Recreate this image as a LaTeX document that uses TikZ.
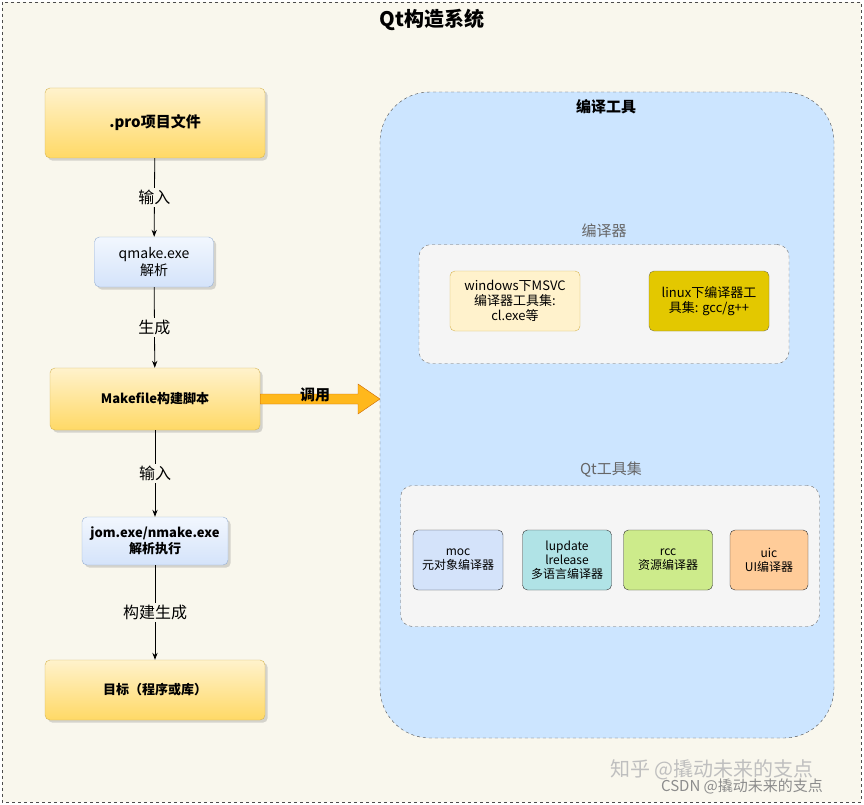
\documentclass[tikz,border=0pt]{standalone}
\usepackage{fontspec}
\setmainfont{Noto Sans CJK SC}
\usetikzlibrary{shadows,arrows.meta}
\definecolor{bgc}{HTML}{F9F7ED}
\definecolor{ylt}{HTML}{FFF2CC}
\definecolor{ydk}{HTML}{FFD966}
\definecolor{ystr}{HTML}{D6B656}
\definecolor{blt}{HTML}{F2F7FE}
\definecolor{bdk}{HTML}{D4E3FA}
\definecolor{bstr}{HTML}{6C8EBF}
\definecolor{cont}{HTML}{CCE5FF}
\definecolor{lupc}{HTML}{B0E3E6}
\definecolor{rccc}{HTML}{CDEB8B}
\definecolor{uicc}{HTML}{FFCC99}
\definecolor{linc}{HTML}{E3C800}
\definecolor{arrc}{HTML}{FFB81C}
\begin{document}
\begin{tikzpicture}[x=1pt,y=-1pt,
 ybox/.style={draw=ystr,rounded corners=5pt,top color=ylt,bottom color=ydk,drop shadow={opacity=0.3},font=\bfseries\fontsize{15}{18}\selectfont,align=center},
 bbox/.style={draw=bstr!70,rounded corners=5pt,top color=blt,bottom color=bdk,drop shadow={opacity=0.3},font=\fontsize{14}{17}\selectfont,align=center},
 lbl/.style={fill=bgc,inner sep=2pt,font=\fontsize{16}{18}\selectfont},
 flow/.style={-{Stealth[length=7pt]},thick},
 grp/.style={draw=black!60,dashed,rounded corners=12pt,fill=black!4},
 tool/.style={rounded corners=5pt,align=center,font=\fontsize{12}{14}\selectfont}]
\useasboundingbox (0,0) rectangle (864,805);
\draw[dashed,fill=bgc,draw=black!70] (2,2) rectangle (861,802);
\node[font=\bfseries\fontsize{20}{24}\selectfont] (title) at (432,20) {Qt构造系统};
% left chain
\node[ybox,minimum width=220pt,minimum height=70pt] (pro) at (155,123) {.pro项目文件};
\node[bbox,minimum width=119pt,minimum height=50pt,font=\fontsize{14}{17}\selectfont] (qm) at (154,262) {qmake.exe\\解析};
\node[ybox,minimum width=210pt,minimum height=62pt,font=\bfseries\fontsize{13}{16}\selectfont] (mk) at (155,399) {Makefile构建脚本};
\node[bbox,minimum width=146pt,minimum height=48pt,font=\bfseries\fontsize{13}{16}\selectfont] (jom) at (155,541) {jom.exe/nmake.exe\\解析执行};
\node[ybox,minimum width=220pt,minimum height=60pt,font=\bfseries\fontsize{13}{16}\selectfont] (tgt) at (155,690) {目标（程序或库）};
\draw[flow] (pro) -- node[lbl]{输入} (qm);
\draw[flow] (qm) -- node[lbl]{生成} (mk);
\draw[flow] (mk) -- node[lbl]{输入} (jom);
\draw[flow] (jom) -- node[lbl]{构建生成} (tgt);
% container
\node[draw=black!70,dashed,fill=cont,rounded corners=50pt,minimum width=454pt,minimum height=646pt] (ct) at (607,415) {};
\node[font=\bfseries\fontsize{15}{18}\selectfont] (cttl) at (606,107) {编译工具};
% arrow
\draw[draw=orange!80!black,fill=arrc] (mk.east |- 0,394) -- (358,394) -- (358,384) -- (380,399) -- (358,414) -- (358,404) -- (mk.east |- 0,404) -- cycle;
\node[font=\bfseries\fontsize{15}{18}\selectfont] (call) at (315,395) {调用};
% compiler group
\node[grp,minimum width=370pt,minimum height=119pt] (g1) at (604,304) {};
\node[text=black!60,font=\fontsize{15}{18}\selectfont] (g1l) at (604,231) {编译器};
\node[tool,draw=ystr,fill=ylt,minimum width=130pt,minimum height=60pt,font=\fontsize{13}{15}\selectfont] (win) at (515,301) {windows下MSVC\\编译器工具集:\\cl.exe等};
\node[tool,draw=black!60!yellow,fill=linc,minimum width=120pt,minimum height=60pt,font=\fontsize{13}{15}\selectfont] (lin) at (709,301) {linux下编译器工\\具集: gcc/g++};
% qt group
\node[grp,minimum width=419pt,minimum height=141pt] (g2) at (610,556) {};
\node[text=black!60,font=\fontsize{15}{18}\selectfont] (g2l) at (611,470) {Qt工具集};
\node[tool,draw=black!80,fill=bdk,minimum width=90pt,minimum height=60pt] (moc) at (458,560) {moc\\元对象编译器};
\node[tool,draw=black!80,fill=lupc,minimum width=89pt,minimum height=60pt] (lup) at (567,560) {lupdate\\lrelease\\多语言编译器};
\node[tool,draw=black!80,fill=rccc,minimum width=89pt,minimum height=60pt] (rcc) at (668,560) {rcc\\资源编译器};
\node[tool,draw=black!80,fill=uicc,minimum width=78pt,minimum height=60pt] (uic) at (769,560) {uic\\UI编译器};
% watermarks
\node[text=black!25,font=\fontsize{20}{22}\selectfont] (wm1) at (712,770) {知乎 @撬动未来的支点};
\node[text=black!45,font=\fontsize{15}{17}\selectfont] (wm2) at (742,786) {CSDN @撬动未来的支点};
\end{tikzpicture}
\end{document}
